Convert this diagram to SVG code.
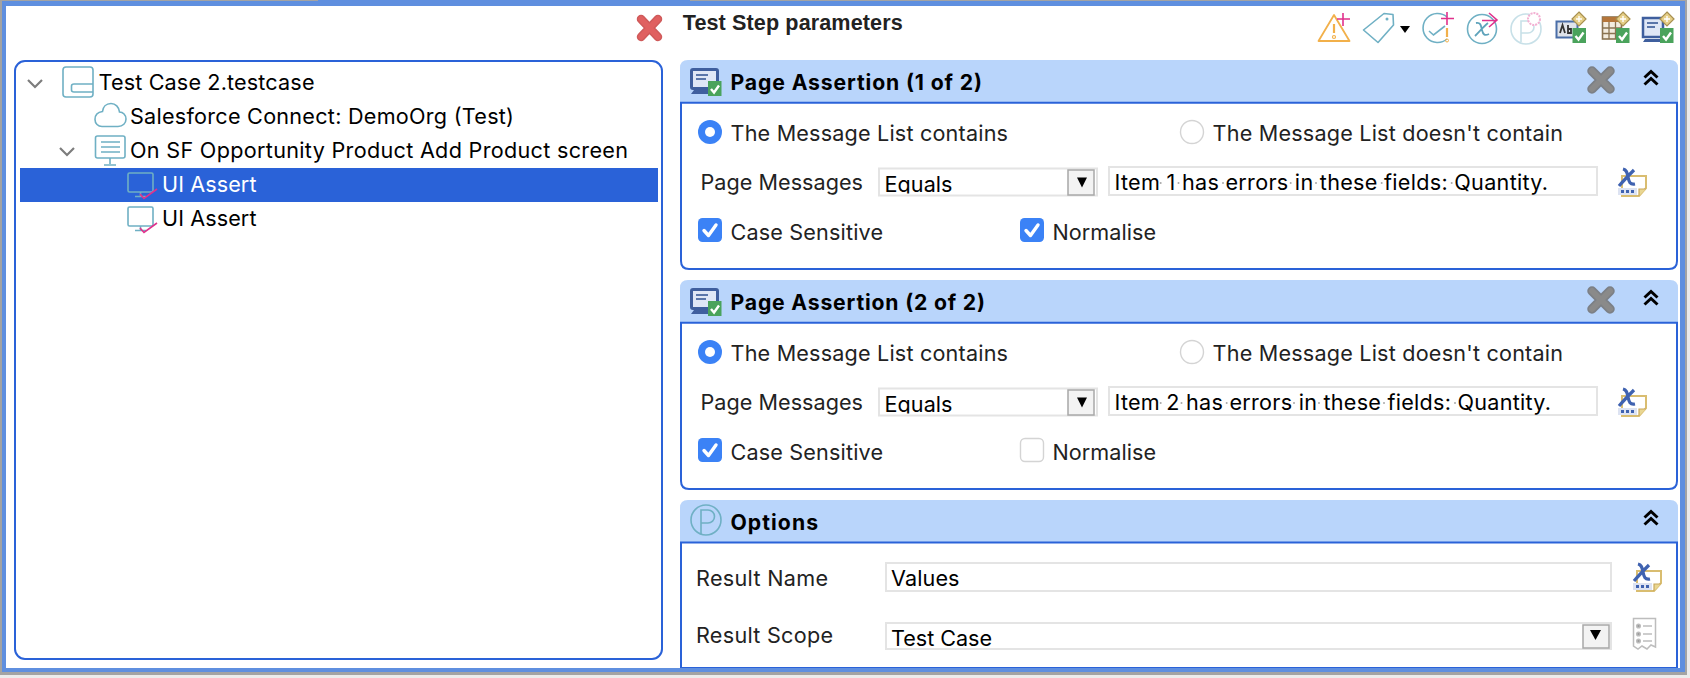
<svg xmlns="http://www.w3.org/2000/svg" xmlns:xlink="http://www.w3.org/1999/xlink" width="1690" height="678" viewBox="0 0 1690 678">
<style>
.t{font-family:Inter,"Liberation Sans",sans-serif;font-size:21.6px;fill:#000}
.l{font-family:Inter,"Liberation Sans",sans-serif;font-size:21.6px;fill:#222}
.b{font-family:Inter,"Liberation Sans",sans-serif;font-size:21.2px;font-weight:700;fill:#000}
.ti{stroke:#6fb0c4;stroke-width:1.6;fill:none}
.pk{stroke:#e0318c;stroke-width:1.6;fill:none}
.fld{fill:#fff;stroke:#e4e4e4;stroke-width:2}
.hdr{fill:#b9d5fb}
.bd{fill:#fff;stroke:#2a62d8;stroke-width:2}
.cb{fill:#3b82f6}
.off{fill:#fff;stroke:#d4d4d4;stroke-width:1.4}
.ck{fill:none;stroke:#fff;stroke-width:3.4;stroke-linecap:round;stroke-linejoin:round}
.dot{fill:#a8a8a8}
</style>
<defs>
<g id="hdrcheck"><rect x="0" y="0" width="13.5" height="15" fill="#4aa35c"/><path d="M3 8 l3 3.5 l5-7" fill="none" stroke="#fff" stroke-width="2.4"/></g>
<g id="diamond"><path d="M0-7 L7 0 L0 7 L-7 0Z" fill="#e6cf88" stroke="#a89050" stroke-width="1.2"/><path d="M-3 0H3M0-3V3" stroke="#fff" stroke-width="1.4"/></g>
<g id="pagemon">
<rect x="1.5" y="1.5" width="26" height="19" rx="1.5" fill="#dfe7f6" stroke="#3f5f9e" stroke-width="3"/>
<path d="M6 7H18M6 11H16" stroke="#5a76aa" stroke-width="2"/>
<path d="M4 22H24L27 26H1Z" fill="#3f5f9e"/>
<use xlink:href="#hdrcheck" x="18" y="13"/>
</g>
<g id="xgray"><path d="M-9-9L9 9M9-9L-9 9" stroke="#727272" stroke-width="9.500" stroke-linecap="round" opacity=".85"/><path d="M-9-9L9 9M9-9L-9 9" stroke="#8a8a8a" stroke-width="6" stroke-linecap="round"/></g>
<g id="chev"><path d="M-6.5 0.5L0-5.5L6.5 0.5M-6.5 7.5L0 1.5L6.5 7.5" fill="none" stroke="#000" stroke-width="3"/></g>
<g id="radioon"><circle r="12" class="cb"/><circle r="5" fill="#fff"/></g>
<g id="cbon"><rect width="24" height="24" rx="4.5" class="cb"/><path d="M6 12.5l4.5 5L18 7" class="ck"/></g>
<g id="vars">
<path d="M7 9H31V21L24 29H7Z" fill="#fff" stroke="#d9bd70" stroke-width="2"/>
<path d="M24 29V22H31" fill="#e9d692" stroke="#c9a85c" stroke-width="1.2"/>
<path d="M8 2C12 3 12 6 13 10C14 15 15 18 20 17M19 3C14 8 10 12 4 19" fill="none" stroke="#3f62b0" stroke-width="3.200"/>
<rect x="3" y="21" width="19" height="7" fill="#dde3f2"/>
<path d="M6 24.500h3M11 24.500h3M16 24.500h3" stroke="#3f62b0" stroke-width="3"/>
</g>
<g id="uimon">
<rect x="1" y="1" width="25" height="19" rx="1.5" class="ti"/>
<path d="M13.500 20V24M8 24.500H19" class="ti"/>
<path d="M13 22l4 4.500L30 17" class="pk"/>
</g>
<g id="combo">
<rect x="1" y="1" width="218" height="27" class="fld"/>
<rect x="190" y="2.500" width="26" height="25" fill="#f3f3f3" stroke="#a8a8a8" stroke-width="1.500"/>
<path d="M199 10H209L204 20Z" fill="#000"/>
</g>
<clipPath id="clipEq"><rect x="880" y="170" width="186" height="23.500"/></clipPath>
<clipPath id="clipEq2"><rect x="880" y="390" width="186" height="23.500"/></clipPath>
</defs>

<g id="frame">
<rect width="1690" height="678" fill="#ececec"/>
<rect x="0" y="0" width="1687" height="675" fill="#a3a3a3"/>
<rect x="318" y="0" width="372" height="2" fill="#5f8fdf"/>
<rect x="2" y="1" width="1683" height="671" fill="#5f8fdf"/>
<rect x="6" y="6" width="1674" height="662" fill="#fff"/>
</g>

<g id="tree">
<rect x="15" y="61" width="647" height="598" rx="10" fill="#fff" stroke="#2a62d8" stroke-width="2"/>
<rect x="20" y="168" width="638" height="34" fill="#2a62d8"/>
<path d="M28 80L35 87L42 80" fill="none" stroke="#7d7d7d" stroke-width="2.200"/>
<path d="M60 148L67 155L74 148" fill="none" stroke="#7d7d7d" stroke-width="2.200"/>
<g id="node-testcase">
<rect x="63" y="67" width="30" height="30" rx="3" class="ti"/>
<path d="M93 84H74Q71.500 84 71.500 86V90Q71.500 92 74 92H93" class="ti"/>
<text x="98.500" y="90" class="t" textLength="216">Test Case 2.testcase</text>
</g>
<g id="node-salesforce">
<path d="M102 126.500H118C123 126.500 126 123 126 119C126 115 123 112 119.500 112C119 107 115.500 103.500 111 103.500C106 103.500 103 107 102.500 111.500C98 112 95 115 95 119.500C95 123.500 98 126.500 102 126.500Z" class="ti"/>
<text x="130" y="124" class="t" textLength="384">Salesforce Connect: DemoOrg (Test)</text>
</g>
<g id="node-screen">
<rect x="95.500" y="136" width="29.500" height="22" rx="2" class="ti"/>
<path d="M101 142H120M101 147H120M101 152H120M110 158V164M104 165H116" class="ti"/>
<text x="130" y="158" class="t" textLength="498">On SF Opportunity Product Add Product screen</text>
</g>
<g id="node-assert1">
<use xlink:href="#uimon" x="127" y="172"/>
<text x="162" y="192" class="t" style="fill:#fff" textLength="94.500">UI Assert</text>
</g>
<g id="node-assert2">
<use xlink:href="#uimon" x="127" y="206"/>
<text x="162" y="226" class="t" textLength="94.500">UI Assert</text>
</g>
</g>

<g id="toolbar">
<g id="close-red" transform="translate(649.500,28)"><path d="M-8.500-9L8.500 9M8.500-9L-8.500 9" stroke="#cf5a5a" stroke-width="8.500" stroke-linecap="round"/><path d="M-8.500-9L8.500 9M8.500-9L-8.500 9" stroke="#e06060" stroke-width="5.500" stroke-linecap="round"/></g>
<text x="682.700" y="30" style="font-family:'Liberation Sans',Arial,sans-serif;font-size:21.600px;font-weight:700;fill:#222" textLength="220">Test Step parameters</text>
<g id="tb-warn">
<path d="M1334 15L1318.500 41H1349.500Z" fill="none" stroke="#f2b04a" stroke-width="1.800" stroke-linejoin="round"/>
<path d="M1334 24V33" stroke="#f2b04a" stroke-width="2.200"/><circle cx="1334" cy="37" r="1.500" fill="none" stroke="#f2b04a" stroke-width="1.200"/>
<path d="M1343 13V26M1337 19H1350" class="pk"/>
</g>
<g id="tb-tag">
<path d="M1363.500 30L1384 13.500L1393 14.500L1393.500 25L1378 42.500Z" class="ti" stroke-linejoin="round"/>
<circle cx="1387" cy="19" r="1.500" fill="#6fb0c4"/>
<path d="M1400 26H1410L1405 33Z" fill="#000"/>
</g>
<g id="tb-check">
<path d="M1447 17A14.500 14.500 0 1 0 1447 39" class="ti" stroke-width="1.800"/>
<path d="M1429 31l4.500 4L1445 26" class="ti"/>
<path d="M1447 12V25M1441 18.500H1454" class="pk"/>
<path d="M1447 28V37" stroke="#f2b04a" stroke-width="2.200"/><circle cx="1447" cy="40.500" r="1.500" fill="none" stroke="#f2b04a" stroke-width="1"/>
</g>
<g id="tb-var">
<circle cx="1482" cy="29" r="14.500" class="ti" stroke-width="1.800"/>
<path d="M1476 23C1481 22 1481 26 1482 30C1483 35 1485 36 1489 34M1488 23C1484 26 1480 31 1475 36" fill="none" stroke="#5fa3bb" stroke-width="1.800"/>
<path d="M1482 20.500H1496M1489 13L1497 20L1489 27" class="pk"/>
</g>
<g id="tb-param" opacity=".38">
<circle cx="1526" cy="29" r="15" class="ti"/>
<path d="M1521 42V21H1528A6 6 0 0 1 1528 33H1521" class="ti"/>
<circle cx="1534" cy="19" r="6" fill="#fff" stroke="#e0318c" stroke-width="2" stroke-dasharray="2 1"/>
</g>
<g id="tb-text">
<rect x="1556.500" y="21.500" width="21" height="16" fill="#dfe3ea" stroke="#4a6ea8" stroke-width="2"/>
<path d="M1560 33L1562.500 25L1565 33M1568 25V33H1571V29H1568" fill="none" stroke="#333" stroke-width="1.800"/>
<use xlink:href="#hdrcheck" x="1572.500" y="28"/><use xlink:href="#diamond" x="1579" y="19"/>
</g>
<g id="tb-table">
<rect x="1602.500" y="17" width="19" height="22" fill="#f3ecdf" stroke="#8a7350" stroke-width="1.600"/>
<rect x="1602.500" y="17" width="19" height="5" fill="#b5763a"/>
<path d="M1602 28H1622M1602 33.500H1622M1609 22V39M1615.500 22V39" stroke="#8a7350" stroke-width="1.300"/>
<use xlink:href="#hdrcheck" x="1616" y="28"/><use xlink:href="#diamond" x="1623" y="19"/>
</g>
<g id="tb-monitor">
<rect x="1643" y="18" width="20" height="19" fill="#dfe7f6" stroke="#3f5f9e" stroke-width="2.500"/>
<path d="M1647 23H1658M1647 27H1655" stroke="#5a76aa" stroke-width="1.800"/>
<path d="M1645 39H1662V42H1643Z" fill="#3f5f9e"/>
<use xlink:href="#hdrcheck" x="1660" y="28"/><use xlink:href="#diamond" x="1667" y="19"/>
</g>
</g>

<g id="panel-assert-1">
<path class="bd" d="M681 102H1677V261Q1677 269 1669 269H689Q681 269 681 261Z"/>
<path class="hdr" d="M680 102V68Q680 60 688 60H1670Q1678 60 1678 68V102Z"/>
<path d="M680 102.700H1678" stroke="#2a62d8" stroke-width="2"/>
<use xlink:href="#pagemon" x="690" y="68"/>
<text x="730.500" y="90" class="b" textLength="251.500">Page Assertion (1 of 2)</text>
<use xlink:href="#xgray" x="1601" y="80"/>
<use xlink:href="#chev" x="1651" y="77"/>
<use xlink:href="#radioon" x="710" y="132"/>
<text x="730.500" y="141" class="l" textLength="277.500">The Message List contains</text>
<circle cx="1192" cy="132" r="11.500" class="off"/>
<text x="1212.500" y="141" class="l" textLength="350.500">The Message List doesn't contain</text>
<text x="700.500" y="190" class="l" textLength="162.500">Page Messages</text>
<use xlink:href="#combo" x="878" y="167.500"/>
<text x="884.500" y="192" class="t" clip-path="url(#clipEq)" textLength="68">Equals</text>
<rect x="1109" y="167" width="488" height="28" class="fld"/>
<text x="1114.500" y="190" class="t" textLength="433.500">Item 1 has errors in these fields: Quantity.</text>
<g class="dot"><circle cx="1160.700" cy="183" r="1"/><circle cx="1178.500" cy="183" r="1"/><circle cx="1223" cy="183" r="1"/><circle cx="1290.700" cy="183" r="1"/><circle cx="1316" cy="183" r="1"/><circle cx="1381.700" cy="183" r="1"/><circle cx="1451.700" cy="183" r="1"/></g>
<use xlink:href="#vars" x="1615" y="167"/>
<use xlink:href="#cbon" x="698" y="218"/>
<text x="730.500" y="240" class="l" textLength="152.500">Case Sensitive</text>
<use xlink:href="#cbon" x="1020" y="218"/>
<text x="1052.500" y="240" class="l" textLength="103.500">Normalise</text>
</g>

<g id="panel-assert-2">
<path class="bd" d="M681 322H1677V481Q1677 489 1669 489H689Q681 489 681 481Z"/>
<path class="hdr" d="M680 322V288Q680 280 688 280H1670Q1678 280 1678 288V322Z"/>
<path d="M680 322.700H1678" stroke="#2a62d8" stroke-width="2"/>
<use xlink:href="#pagemon" x="690" y="288"/>
<text x="730.500" y="310" class="b" textLength="254.500">Page Assertion (2 of 2)</text>
<use xlink:href="#xgray" x="1601" y="300"/>
<use xlink:href="#chev" x="1651" y="297"/>
<use xlink:href="#radioon" x="710" y="352"/>
<text x="730.500" y="361" class="l" textLength="277.500">The Message List contains</text>
<circle cx="1192" cy="352" r="11.500" class="off"/>
<text x="1212.500" y="361" class="l" textLength="350.500">The Message List doesn't contain</text>
<text x="700.500" y="410" class="l" textLength="162.500">Page Messages</text>
<use xlink:href="#combo" x="878" y="387.500"/>
<text x="884.500" y="412" class="t" clip-path="url(#clipEq2)" textLength="68">Equals</text>
<rect x="1109" y="387" width="488" height="28" class="fld"/>
<text x="1114.500" y="410" class="t" textLength="436.500">Item 2 has errors in these fields: Quantity.</text>
<g class="dot"><circle cx="1160.700" cy="403" r="1"/><circle cx="1181.500" cy="403" r="1"/><circle cx="1226.700" cy="403" r="1"/><circle cx="1294" cy="403" r="1"/><circle cx="1319" cy="403" r="1"/><circle cx="1384" cy="403" r="1"/><circle cx="1455" cy="403" r="1"/></g>
<use xlink:href="#vars" x="1615" y="387"/>
<use xlink:href="#cbon" x="698" y="438"/>
<text x="730.500" y="460" class="l" textLength="152.500">Case Sensitive</text>
<rect x="1020.500" y="438.500" width="23" height="23" rx="4.500" class="off"/>
<text x="1052.500" y="460" class="l" textLength="103.500">Normalise</text>
</g>

<g id="panel-options">
<path class="bd" d="M681 542H1677V668H681Z"/>
<path class="hdr" d="M680 542V508Q680 500 688 500H1670Q1678 500 1678 508V542Z"/>
<path d="M680 542.500H1678" stroke="#2a62d8" stroke-width="2"/>
<circle cx="706" cy="520" r="15" class="ti"/>
<path d="M701 534V510H708A6.500 6.500 0 0 1 708 523H701" class="ti"/>
<text x="730.500" y="530" class="b" textLength="87.500">Options</text>
<use xlink:href="#chev" x="1651" y="517"/>
<text x="696" y="586" class="l" textLength="132">Result Name</text>
<rect x="886" y="563" width="725" height="28" class="fld"/>
<text x="891" y="586" class="t" textLength="68.500">Values</text>
<use xlink:href="#vars" x="1630" y="562"/>
<text x="696" y="643" class="l" textLength="137">Result Scope</text>
<rect x="886" y="623" width="725" height="26" class="fld"/>
<rect x="1583" y="625" width="26" height="23" fill="#f3f3f3" stroke="#a8a8a8" stroke-width="1.500"/>
<path d="M1590 630H1601L1595.500 640Z" fill="#000"/>
<text x="891" y="646" class="t" textLength="101">Test Case</text>
<g id="list-icon" fill="none" stroke="#bdbdbd" stroke-width="1.500">
<path d="M1633.500 618.500H1655.500V647L1651 645L1647 649L1642 646L1638 649L1633.500 646Z"/>
<path d="M1643 626H1652M1643 634H1652M1643 641H1652"/>
<circle cx="1638.500" cy="626" r="1.800" fill="#999"/><circle cx="1638.500" cy="634" r="1.800" fill="#999"/><circle cx="1638.500" cy="641" r="1.800" fill="#999"/>
</g>
</g>

<path id="frame-bottom" d="M6 668H1680V672H6Z" fill="#5f8fdf"/>
</svg>
